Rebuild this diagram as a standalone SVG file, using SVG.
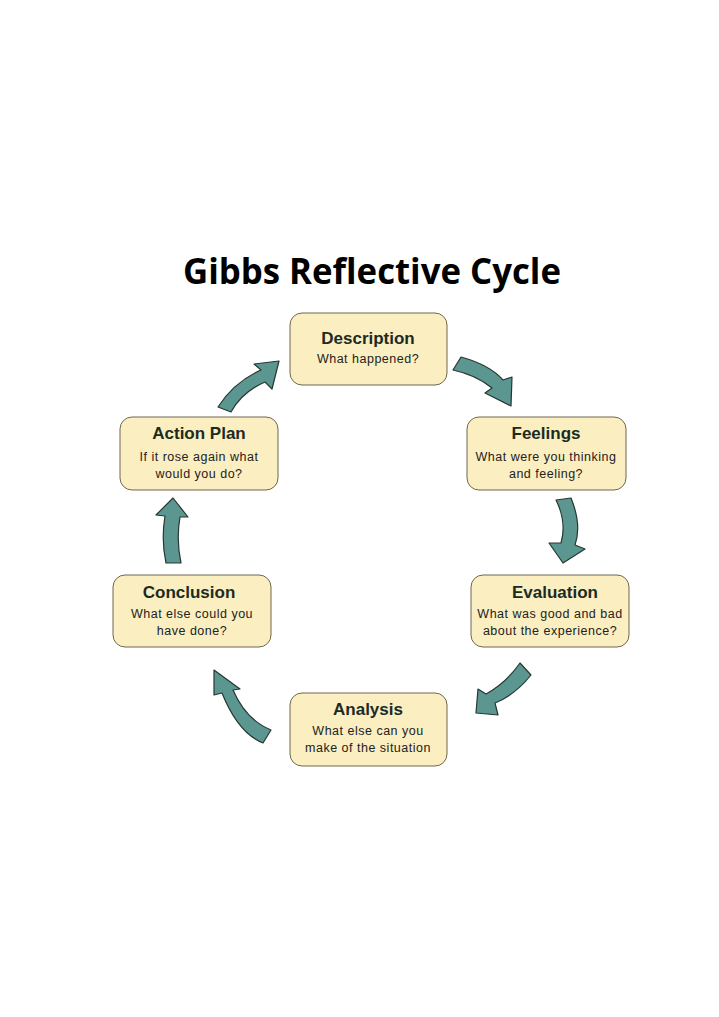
<svg xmlns="http://www.w3.org/2000/svg" width="719" height="1017" viewBox="0 0 719 1017">
<style>
.box{fill:#fbeec0;stroke:#6f6650;stroke-width:1}
.t{font-family:"Liberation Sans",Arial,sans-serif;font-weight:bold;font-size:17px;fill:#1c2b22;text-anchor:middle}
.s{font-family:"Liberation Sans",Arial,sans-serif;font-size:12.5px;letter-spacing:0.5px;fill:#222;text-anchor:middle}
.a{fill:#5b9690;stroke:#263832;stroke-width:1.2;stroke-linejoin:round}
</style>
<rect width="719" height="1017" fill="#fff"/>
<text x="372" y="284" font-family="'Open Sans',sans-serif" font-weight="bold" font-size="35" fill="#000" text-anchor="middle" textLength="378" lengthAdjust="spacingAndGlyphs">Gibbs Reflective Cycle</text>
<g id="connectors">
<path class="a" d="M453,370 L461,357 Q490,365 503,380 L512,377 L511,406 L485,393 L492,388 Q476,375 453,370 Z"/>
<path class="a" d="M556,500 L571,498 Q582,525 575,545 L585,549 L563,563 L549,543 L561,543 Q567,522 556,500 Z"/>
<path class="a" d="M520,663 L531,675 Q515,695 495,703 L498,715 L476,713 L478,689 L486,694 Q506,683 520,663 Z"/>
<path class="a" d="M271,730 L263,743 Q238,733 222,693 L214,695 L214,670 L240,689 L233,690 Q246,720 271,730 Z"/>
<path class="a" d="M166,563 L181,563 Q176,540 180,517 L188,517 L173,498 L156,515 L165,516 Q161,540 166,563 Z"/>
<path class="a" d="M218,407 L231,412 Q242,392 265,382 L272,389 L279,361 L254,364 L261,370 Q234,382 218,407 Z"/>
</g>
<g id="description"><rect class="box" x="290" y="313" width="157" height="72" rx="12"/><text class="t" x="368" y="344">Description</text><text class="s" x="368" y="363">What happened?</text></g>
<g id="feelings"><rect class="box" x="467" y="417" width="159" height="73" rx="12"/><text class="t" x="546" y="439">Feelings</text><text class="s" x="546" y="461">What were you thinking</text><text class="s" x="546" y="478">and feeling?</text></g>
<g id="evaluation"><rect class="box" x="471" y="575" width="158" height="72" rx="12"/><text class="t" x="555" y="598">Evaluation</text><text class="s" x="550" y="618">What was good and bad</text><text class="s" x="550" y="635">about the experience?</text></g>
<g id="analysis"><rect class="box" x="290" y="693" width="157" height="73" rx="12"/><text class="t" x="368" y="715">Analysis</text><text class="s" x="368" y="735">What else can you</text><text class="s" x="368" y="752">make of the situation</text></g>
<g id="conclusion"><rect class="box" x="113" y="575" width="158" height="72" rx="12"/><text class="t" x="189" y="598">Conclusion</text><text class="s" x="192" y="618">What else could you</text><text class="s" x="192" y="635">have done?</text></g>
<g id="actionplan"><rect class="box" x="120" y="417" width="158" height="73" rx="12"/><text class="t" x="199" y="439">Action Plan</text><text class="s" x="199" y="461">If it rose again what</text><text class="s" x="199" y="478">would you do?</text></g>
</svg>
